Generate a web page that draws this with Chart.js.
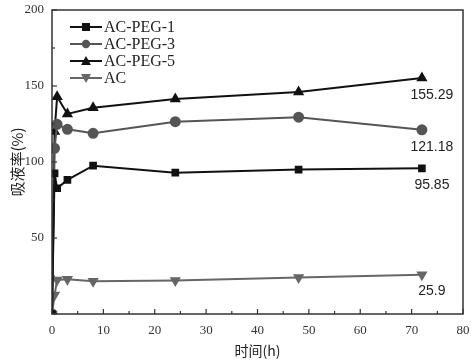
<!DOCTYPE html>
<html>
<head>
<meta charset="utf-8">
<script src="https://cdn.jsdelivr.net/npm/chart.js@4/dist/chart.umd.min.js"></script>
<style>
  html, body { margin: 0; padding: 0; background: #fff; }
  #wrap { width: 474px; height: 363px; }
</style>
</head>
<body>
<div id="wrap"><canvas id="absorb"></canvas></div>
<script>
const hours = [0, 0.5, 1, 3, 8, 24, 48, 72];
const seriesNames = ['AC-PEG-1', 'AC-PEG-3', 'AC-PEG-5', 'AC'];
const peg1 = [0, 92.5, 82.7, 88.2, 97.6, 93.0, 95.0, 95.85];
const peg3 = [0, 109, 124.8, 121.5, 118.9, 126.5, 129.5, 121.18];
const peg5 = [0, 120, 143, 131.6, 135.7, 141.4, 146, 155.29];
const acOnly = [0, 12.5, 22.4, 22.8, 21.5, 22.0, 24.0, 25.9];
const endLabels = ['95.85', '121.18', '155.29', '25.9'];
const xTicks = [0, 10, 20, 30, 40, 50, 60, 70, 80];
const yTicks = [50, 100, 150, 200];

const colors = ['#111', '#555', '#111', '#666'];
const markers = ['rect', 'circle', 'triangle', 'triangle'];
const allValues = [peg1, peg3, peg5, acOnly];

function toPoints(vals) {
    return hours.map((h, i) => ({ x: h, y: vals[i] }));
}

function drawMarker(ctx, style, x, y, color, flip) {
    ctx.save();
    ctx.fillStyle = color;
    ctx.beginPath();
    if (style === 'rect') {
        ctx.rect(x - 4, y - 4, 8, 8);
    } else if (style === 'circle') {
        ctx.arc(x, y, 4.2, 0, Math.PI * 2);
    } else {
        const s = flip ? -1 : 1;
        ctx.moveTo(x, y - 5 * s);
        ctx.lineTo(x + 5, y + 4 * s);
        ctx.lineTo(x - 5, y + 4 * s);
        ctx.closePath();
    }
    ctx.fill();
    ctx.restore();
}

// frame, inward ticks, legend and end labels
const decorations = {
    id: 'decorations',
    afterDraw(chart) {
        const ctx = chart.ctx;
        const a = chart.chartArea;
        const xs = chart.scales.x, ys = chart.scales.y;
        ctx.save();
        ctx.strokeStyle = '#333';
        ctx.lineWidth = 1.5;
        ctx.strokeRect(a.left, a.top, a.right - a.left, a.bottom - a.top);
        ctx.lineWidth = 1.2;
        for (let v = 0; v <= 80; v += 5) {
            const px = xs.getPixelForValue(v);
            const len = v % 10 === 0 ? 5 : 3;
            ctx.beginPath();
            ctx.moveTo(px, a.bottom);
            ctx.lineTo(px, a.bottom - len);
            ctx.stroke();
        }
        for (let v = 0; v <= 200; v += 25) {
            const py = ys.getPixelForValue(v);
            const len = v % 50 === 0 ? 5 : 3;
            ctx.beginPath();
            ctx.moveTo(a.left, py);
            ctx.lineTo(a.left + len, py);
            ctx.stroke();
        }

        // legend
        ctx.font = '16px "Liberation Serif", serif';
        ctx.textBaseline = 'middle';
        seriesNames.forEach((name, i) => {
            const y = 27 + i * 17;
            ctx.strokeStyle = colors[i];
            ctx.lineWidth = 2;
            ctx.beginPath();
            ctx.moveTo(70, y);
            ctx.lineTo(102, y);
            ctx.stroke();
            drawMarker(ctx, markers[i], 86, y, colors[i], i === 3);
            ctx.fillStyle = '#222';
            ctx.fillText(name, 104, y + 1);
        });

        // end values
        ctx.font = '14px "Liberation Sans", Arial, sans-serif';
        ctx.fillStyle = '#222';
        ctx.textAlign = 'center';
        allValues.forEach((vals, i) => {
            const px = xs.getPixelForValue(72);
            const py = ys.getPixelForValue(vals[vals.length - 1]);
            ctx.fillText(endLabels[i], px + 10, py + 17);
        });
        ctx.restore();
    }
};

const ctx = document.getElementById('absorb').getContext('2d');
new Chart(ctx, {
    type: 'line',
    data: {
        datasets: seriesNames.map((name, i) => ({
            label: name,
            data: toPoints(allValues[i]),
            borderColor: colors[i],
            backgroundColor: colors[i],
            borderWidth: 2,
            pointStyle: markers[i],
            pointRadius: i === 0 ? 4 : 4.5,
            pointRotation: i === 3 ? 180 : 0,
            tension: 0
        }))
    },
    options: {
        responsive: true,
        maintainAspectRatio: false,
        animation: false,
        layout: { padding: { top: 10, right: 11, left: 0, bottom: 0 } },
        plugins: {
            legend: { display: false },
            tooltip: { enabled: false }
        },
        scales: {
            x: {
                type: 'linear',
                min: 0,
                max: 80,
                afterBuildTicks: scale => { scale.ticks = xTicks.map(v => ({ value: v })); },
                afterFit: scale => { scale.height = 49; },
                grid: { display: false },
                border: { display: false },
                ticks: {
                    color: '#333',
                    font: { family: '"Liberation Serif", serif', size: 13 },
                    padding: 1
                },
                title: {
                    display: true,
                    text: '时间(h)',
                    color: '#222',
                    font: { family: '"Noto Sans CJK SC", sans-serif', size: 14 },
                    padding: { top: 2 }
                }
            },
            y: {
                min: 0,
                max: 200,
                afterBuildTicks: scale => { scale.ticks = yTicks.map(v => ({ value: v })); },
                afterFit: scale => { scale.width = 52; },
                grid: { display: false },
                border: { display: false },
                ticks: {
                    color: '#333',
                    font: { family: '"Liberation Serif", serif', size: 13 },
                    padding: 0
                },
                title: {
                    display: true,
                    text: '吸液率(%)',
                    color: '#222',
                    font: { family: '"Noto Sans CJK SC", sans-serif', size: 15 },
                    padding: { top: 8, bottom: 0 }
                }
            }
        }
    },
    plugins: [decorations]
});
</script>
</body>
</html>
